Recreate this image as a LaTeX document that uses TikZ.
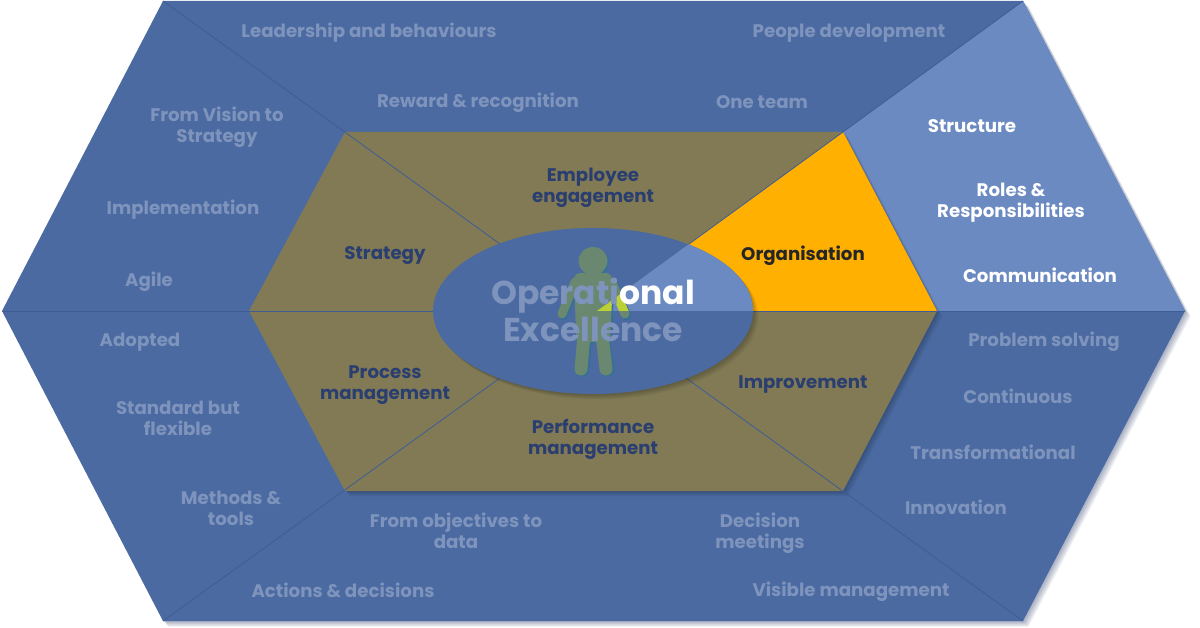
\documentclass[tikz,border=0pt]{standalone}
\usepackage{fontspec}
\setmainfont{Poppins}
\definecolor{hexdark}{HTML}{4A6AA1}
\definecolor{hexlight}{HTML}{6B8AC2}
\definecolor{inner}{HTML}{817A55}
\definecolor{orangeseg}{HTML}{FFB000}
\definecolor{palet}{HTML}{7F94BC}
\definecolor{navyt}{HTML}{2A3E70}
\definecolor{divider}{HTML}{3F5C97}
\definecolor{personc}{HTML}{69886F}
\definecolor{limec}{HTML}{BCCF36}
\definecolor{shadowc}{HTML}{2F3F6A}
\tikzset{
 lbl/.style={font=\fontsize{18.2}{21}\selectfont\bfseries,align=center,inner sep=0pt},
 pale/.style={lbl,text=palet},
 whitet/.style={lbl,text=white},
 navy/.style={lbl,text=navyt},
 bigt/.style={font=\fontsize{33}{37}\selectfont\bfseries,align=center,inner sep=0pt,text=palet},
 divline/.style={draw=divider,line width=0.8pt},
}
\newcommand{\personshape}[1]{%
 \fill[#1] (593,261) ellipse (14.5 and 14);
 \fill[#1,rounded corners=6pt] (574,273)--(612,273)--(612,300)--(610,342)--(576,342)--(575,300)--cycle;
 \draw[#1,line width=9pt,line cap=round] (575,282)--(562,314);
 \draw[#1,line width=9pt,line cap=round] (612,282)--(625,314);
 \draw[#1,line width=13pt,line cap=round] (584,335)--(581,369);
 \draw[#1,line width=13pt,line cap=round] (602,335)--(606,369);
}
\begin{document}
\begin{tikzpicture}[x=1pt,y=-1pt]
\useasboundingbox (0,0) rectangle (1200,628);
% outer hexagon vertices
\coordinate (otl) at (163,1);
\coordinate (otr) at (1023,1);
\coordinate (or) at (1185,311);
\coordinate (obr) at (1023,621);
\coordinate (obl) at (163,621);
\coordinate (ol) at (2,311);
% inner hexagon vertices
\coordinate (itl) at (345,132);
\coordinate (itr) at (843,132);
\coordinate (ir) at (937,311);
\coordinate (ibr) at (843,491);
\coordinate (ibl) at (345,491);
\coordinate (il) at (249,311);
\coordinate (apex) at (597,311);
\coordinate (ctr) at (593,311);
% outer shadow
\foreach \d in {1,2,...,7}{
 \fill[shadowc,opacity=0.07,transform canvas={shift={(\d*0.8,\d*0.8)}}] (otl)--(otr)--(or)--(obr)--(obl)--(ol)--cycle;
}
\fill[hexdark] (otl)--(otr)--(or)--(obr)--(obl)--(ol)--cycle;
\fill[hexlight] (otr)--(or)--(ir)--(itr)--cycle;
% inner shadow
\foreach \d in {1,2,...,6}{
 \fill[black,opacity=0.035,transform canvas={shift={(\d*0.9,\d*0.9)}}] (itl)--(itr)--(ir)--(ibr)--(ibl)--(il)--cycle;
}
\fill[inner] (itl)--(itr)--(ir)--(ibr)--(ibl)--(il)--cycle;
\fill[orangeseg] (itr)--(ir)--(apex)--cycle;
% dividers
\draw[divline] (ol)--(or);
\draw[divline] (otl)--(ctr);
\draw[divline] (otr)--(apex);
\draw[divline] (obl)--(ctr);
\draw[divline] (obr)--(ctr);
% ellipse
\foreach \d in {1,2,...,6}{
 \fill[black,opacity=0.04,transform canvas={shift={(\d*0.9,\d*0.9)}}] (593,311) ellipse (160 and 83);
}
\fill[hexdark] (593,311) ellipse (160 and 83);
\begin{scope}
 \clip (593,311) ellipse (160 and 83);
 \fill[hexlight] (apex)--(itr)--(ir)--cycle;
\end{scope}
% person
\begin{scope}[shift={(1.5,1.5)}]
 \personshape{hexdark!70!teal}
\end{scope}
\personshape{personc}
\begin{scope}
 \clip (apex)--(itr)--(ir)--cycle;
 \personshape{limec}
\end{scope}
% texts
\node[bigt] (title) at (593,310) {Operati{\color{white}onal}\\Excellence};
\node[pale] (t1) at (369,33) {Leadership and behaviours};
\node[pale] (t2) at (849,33) {People development};
\node[pale] (t3) at (478,103) {Reward \& recognition};
\node[pale] (t4) at (762,102) {One team};
\node[pale] (t5) at (217,127.5) {From Vision to\\Strategy};
\node[pale] (t6) at (183,210) {Implementation};
\node[pale] (t7) at (149,282) {Agile};
\node[whitet] (t8) at (972,126) {Structure};
\node[whitet] (t9) at (1011,203) {Roles \&\\Responsibilities};
\node[whitet] (t10) at (1040,275) {Communication};
\node[navy] (t11) at (593,188) {Employee\\engagement};
\node[navy] (t12) at (385,256) {Strategy};
\node[lbl,text=black!85] (t13) at (803,256) {Organisation};
\node[navy] (t14) at (385,385) {Process\\management};
\node[navy] (t15) at (803,385) {Improvement};
\node[navy] (t16) at (593,439) {Performance\\management};
\node[pale] (t17) at (140,342) {Adopted};
\node[pale] (t18) at (178,418) {Standard but\\flexible};
\node[pale] (t19) at (231,508) {Methods \&\\tools};
\node[pale] (t20) at (456,531) {From objectives to\\data};
\node[pale] (t21) at (343,590) {Actions \& decisions};
\node[pale] (t22) at (760,533) {Decision\\meetings};
\node[pale] (t23) at (851,592) {Visible management};
\node[pale] (t24) at (1044,342) {Problem solving};
\node[pale] (t25) at (1018,396) {Continuous};
\node[pale] (t26) at (993,452) {Transformational};
\node[pale] (t27) at (956,507) {Innovation};
\end{tikzpicture}
\end{document}
